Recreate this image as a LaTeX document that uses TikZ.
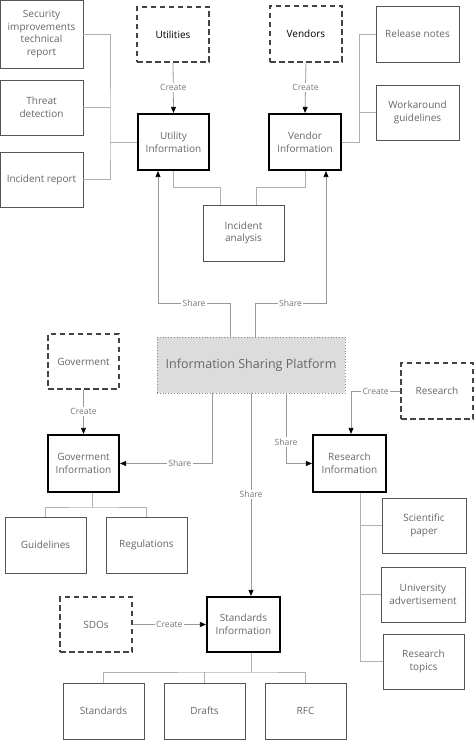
\documentclass[tikz,border=0pt]{standalone}
\usepackage{fontspec}
\setmainfont{Open Sans}
\usetikzlibrary{arrows.meta}
\definecolor{txtg}{HTML}{666666}
\definecolor{lblg}{HTML}{777777}
\definecolor{boxg}{HTML}{555555}
\definecolor{dashg}{HTML}{444444}
\definecolor{lineg}{HTML}{B0B0B0}
\definecolor{shareg}{HTML}{9A9A9A}
\definecolor{platfill}{HTML}{DCDCDC}
\definecolor{platdraw}{HTML}{888888}
\tikzset{
  box/.style={draw=boxg, line width=0.8pt, text=txtg, align=center,
    minimum width=81pt, minimum height=55pt, inner sep=2pt,
    font=\fontsize{10}{12.7}\selectfont},
  thickbox/.style={box, draw=black, line width=2.2pt},
  dashbox/.style={box, draw=dashg, line width=1.4pt, dash pattern=on 5.5pt off 3.5pt},
  platbox/.style={box, fill=platfill, draw=platdraw, dotted, line width=0.9pt,
    font=\fontsize{12.5}{15}\selectfont},
  conn/.style={draw=lineg, line width=0.8pt},
  sconn/.style={draw=shareg, line width=0.8pt},
  arr/.style={sconn, -{Triangle[length=6pt,width=5pt,color=black]}},
  lbl/.style={fill=white, text=lblg, inner sep=1.5pt, font=\fontsize{8.6}{10}\selectfont},
}
\begin{document}
\begin{tikzpicture}[x=1pt,y=-1pt]
\useasboundingbox (0,0) rectangle (474,741);
% top-left boxes
\node[box, minimum width=83pt, minimum height=68pt] (sec) at (41.5,34) {Security\\improvements\\technical\\report};
\node[box, minimum width=83pt] (threat) at (41.5,107.5) {Threat\\detection};
\node[box, minimum width=83pt] (incr) at (41.5,179.5) {Incident report};
% utilities
\node[dashbox, minimum width=72pt, text=black] (util) at (173,34.5) {Utilities};
\node[thickbox, minimum width=71pt, minimum height=56pt] (utilinfo) at (173.5,142) {Utility\\Information};
% vendors
\node[dashbox, minimum width=72pt, minimum height=56pt, text=black] (vend) at (306,34) {Vendors};
\node[thickbox, minimum width=72pt, minimum height=56pt] (vendinfo) at (305,142) {Vendor\\Information};
\node[box, minimum width=83pt, minimum height=56pt] (rel) at (417.5,34) {Release notes};
\node[box, minimum width=83pt] (work) at (417.5,112.5) {Workaround\\guidelines};
% incident analysis
\node[box, minimum height=56pt] (inc) at (243.5,233) {Incident\\analysis};
% platform
\node[platbox, minimum width=188pt, minimum height=56pt] (plat) at (251,365) {Information Sharing Platform};
% government
\node[dashbox, minimum width=71pt] (gov) at (83.5,361.5) {Goverment};
\node[thickbox, minimum width=71pt, minimum height=57pt] (govinfo) at (83.5,463.5) {Goverment\\Information};
\node[box, minimum height=56pt] (guide) at (45.5,545) {Guidelines};
\node[box, minimum height=56pt] (regs) at (146.5,545) {Regulations};
% research
\node[dashbox, minimum width=72pt, minimum height=56pt] (res) at (437,391) {Research};
\node[thickbox, minimum width=73pt, minimum height=57pt] (resinfo) at (349.5,463.5) {Research\\Information};
\node[box, minimum width=84pt] (sci) at (424,525.5) {Scientific\\paper};
\node[box, minimum width=84pt] (univ) at (423,594.5) {University\\advertisement};
\node[box] (topics) at (423.5,661.5) {Research\\topics};
% standards
\node[dashbox, minimum width=72pt] (sdo) at (96,624.5) {SDOs};
\node[thickbox, minimum width=73pt] (stdinfo) at (243.5,624.5) {Standards\\Information};
\node[box, minimum height=56pt] (stds) at (103.5,711) {Standards};
\node[box, minimum height=56pt] (drafts) at (204.5,711) {Drafts};
\node[box, minimum height=56pt] (rfc) at (305.5,711) {RFC};

% left bus to utility information
\coordinate (jl) at (110,142);
\draw[conn] (sec.east) -| (jl) |- (incr.east);
\draw[conn] (threat.east) -- (jl |- threat.east);
\draw[conn] (jl) -- (utilinfo.west);
% right bus from vendor information
\coordinate (jr) at (359,142);
\draw[conn] (vendinfo.east) -- (jr) |- (rel.west);
\draw[conn] (jr |- work.west) -- (work.west);
% to incident analysis
\coordinate (ia) at (220,187);
\coordinate (ib) at (256,187);
\draw[conn] (utilinfo.south) |- (ia) -- (ia |- inc.north);
\draw[conn] (vendinfo.south) |- (ib) -- (ib |- inc.north);
% create arrows
\draw[arr] (util.south) -- node[lbl]{Create} (utilinfo.north);
\draw[arr] (vend.south) -- node[lbl]{Create} (vendinfo.north);
\draw[arr] (gov.south) -- node[lbl]{Create} (govinfo.north);
\coordinate (rc) at (351,391);
\draw[arr] (res.west) -- node[lbl]{Create} (rc) -- (rc |- resinfo.north);
\draw[arr] (sdo.east) -- node[lbl]{Create} (stdinfo.west);
% share up
\coordinate (s1a) at (230,303);
\coordinate (s1b) at (158,303);
\draw[arr] (s1a |- plat.north) -- (s1a) -- node[lbl]{Share} (s1b) -- (s1b |- utilinfo.south);
\coordinate (s2a) at (255,303);
\coordinate (s2b) at (326,303);
\draw[arr] (s2a |- plat.north) -- (s2a) -- node[lbl]{Share} (s2b) -- (s2b |- vendinfo.south);
% share down
\coordinate (s3) at (212,463.5);
\draw[arr] (s3 |- plat.south) -- (s3) -- node[lbl, pos=0.35]{Share} (govinfo.east);
\coordinate (s4) at (286,463.5);
\draw[arr] (s4 |- plat.south) -- node[lbl, pos=0.69]{Share} (s4) -- (resinfo.west);
\coordinate (s5) at (251,0);
\draw[arr] (s5 |- plat.south) -- node[lbl, pos=0.5]{Share} (s5 |- stdinfo.north);
% government children
\coordinate (gb) at (92,507);
\draw[conn] (gb |- govinfo.south) -- (gb);
\draw[conn] (guide.north) |- (gb) -| (regs.north);
% research children
\coordinate (rb) at (360,0);
\draw[conn] (rb |- resinfo.south) |- (topics.west);
\draw[conn] (rb |- sci.west) -- (sci.west);
\draw[conn] (rb |- univ.west) -- (univ.west);
% standards children
\coordinate (sb) at (251,672);
\draw[conn] (sb |- stdinfo.south) -- (sb);
\draw[conn] (stds.north) |- (sb) -| (rfc.north);
\draw[conn] (drafts.north) -- (drafts.north |- sb);
\end{tikzpicture}
\end{document}
